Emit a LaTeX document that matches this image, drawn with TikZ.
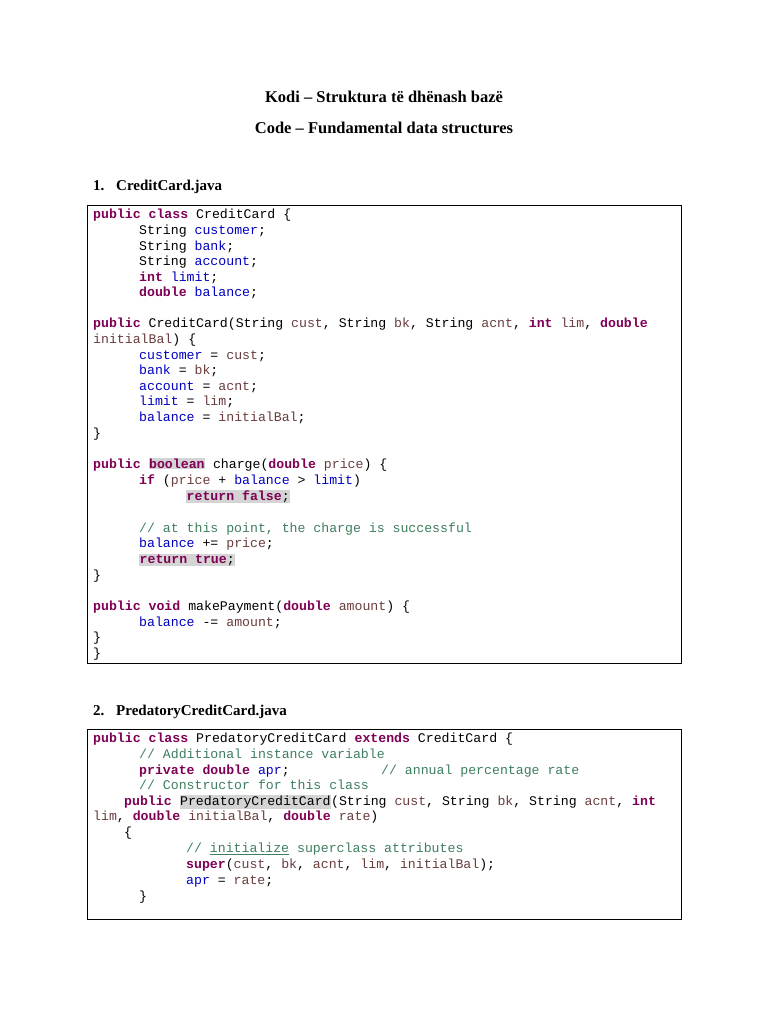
\documentclass[tikz,border=0pt]{standalone}
\usepackage{fontspec}
\setmainfont{Liberation Serif}
\setmonofont{Liberation Mono}
\definecolor{kwc}{HTML}{7F0055}
\definecolor{fdc}{HTML}{0000C0}
\definecolor{vrc}{HTML}{6A3E3E}
\definecolor{cmc}{HTML}{3F7F5F}
\definecolor{hlc}{HTML}{D4D4D4}
\newcommand{\kw}[1]{\textcolor{kwc}{\bfseries #1}}
\newcommand{\fd}[1]{\textcolor{fdc}{#1}}
\newcommand{\vr}[1]{\textcolor{vrc}{#1}}
\newcommand{\cm}[1]{\textcolor{cmc}{#1}}
\newcommand{\hlx}[1]{{\setlength{\fboxsep}{0.5pt}\colorbox{hlc}{#1}}}
\tikzset{codeline/.style={anchor=base west,inner sep=0pt,font=\ttfamily\fontsize{13.2}{15}\selectfont},
 titletext/.style={font=\bfseries\fontsize{16.5}{18}\selectfont,inner sep=0pt,anchor=base},
 headtext/.style={font=\bfseries\fontsize{15}{17}\selectfont,inner sep=0pt,anchor=base west},
 codebox/.style={draw=black,line width=0.8pt}}
\begin{document}
\begin{tikzpicture}[x=1pt,y=-1pt]
\useasboundingbox[fill=white] (0,0) rectangle (768,1024);
\node[titletext] (t1) at (384,103) {Kodi – Struktura të dhënash bazë};
\node[titletext] (t2) at (384,134) {Code – Fundamental data structures};
\node[headtext] (h1n) at (93,191) {1.};
\node[headtext] (h1) at (116,191) {CreditCard.java};
\node[headtext] (h2n) at (93,715) {2.};
\node[headtext] (h2) at (116,715) {PredatoryCreditCard.java};
\draw[codebox] (87,205) rectangle (681,663);
\draw[codebox] (87,729) rectangle (681,919);
% box 1
\node[codeline] (a1) at (93,218.5) {\kw{public class} CreditCard \{};
\node[codeline] (a2) at (139,234.5) {String \fd{customer};};
\node[codeline] (a3) at (139,250) {String \fd{bank};};
\node[codeline] (a4) at (139,265.5) {String \fd{account};};
\node[codeline] (a5) at (139,281.5) {\kw{int} \fd{limit};};
\node[codeline] (a6) at (139,296.5) {\kw{double} \fd{balance};};
\node[codeline] (a8) at (93,327.5) {\kw{public} CreditCard(String \vr{cust}, String \vr{bk}, String \vr{acnt}, \kw{int} \vr{lim}, \kw{double}};
\node[codeline] (a9) at (93,343.5) {\vr{initialBal}) \{};
\node[codeline] (a10) at (139,359.5) {\fd{customer} = \vr{cust};};
\node[codeline] (a11) at (139,374.5) {\fd{bank} = \vr{bk};};
\node[codeline] (a12) at (139,390.5) {\fd{account} = \vr{acnt};};
\node[codeline] (a13) at (139,405.5) {\fd{limit} = \vr{lim};};
\node[codeline] (a14) at (139,421.5) {\fd{balance} = \vr{initialBal};};
\node[codeline] (a15) at (93,437.5) {\}};
\node[codeline] (a17) at (93,468.5) {\kw{public} \hlx{\kw{boolean}} charge(\kw{double} \vr{price}) \{};
\node[codeline] (a18) at (139,484.5) {\kw{if} (\vr{price} + \fd{balance} > \fd{limit})};
\node[codeline] (a19) at (186,500.5) {\hlx{\kw{return false};}};
\node[codeline] (a21) at (139,532.5) {\cm{// at this point, the charge is successful}};
\node[codeline] (a22) at (139,547.5) {\fd{balance} += \vr{price};};
\node[codeline] (a23) at (139,563.5) {\hlx{\kw{return true};}};
\node[codeline] (a24) at (93,579.5) {\}};
\node[codeline] (a26) at (93,610.5) {\kw{public void} makePayment(\kw{double} \vr{amount}) \{};
\node[codeline] (a27) at (139,626.5) {\fd{balance} -= \vr{amount};};
\node[codeline] (a28) at (93,641.5) {\}};
\node[codeline] (a29) at (93,657.5) {\}};
% box 2
\node[codeline] (b1) at (93,742.5) {\kw{public class} PredatoryCreditCard \kw{extends} CreditCard \{};
\node[codeline] (b2) at (139,758.5) {\cm{// Additional instance variable}};
\node[codeline] (b3) at (139,774.5) {\kw{private double} \fd{apr};};
\node[codeline] (b3c) at (381,774.5) {\cm{// annual percentage rate}};
\node[codeline] (b4) at (139,789.5) {\cm{// Constructor for this class}};
\node[codeline] (b5) at (124,805.5) {\kw{public} \hlx{PredatoryCreditCard}(String \vr{cust}, String \vr{bk}, String \vr{acnt}, \kw{int}};
\node[codeline] (b6) at (93,820.5) {\vr{lim}, \kw{double} \vr{initialBal}, \kw{double} \vr{rate})};
\node[codeline] (b7) at (124,836.5) {\{};
\node[codeline] (b8) at (186,852.5) {\cm{// \underline{initialize} superclass attributes}};
\node[codeline] (b9) at (186,868) {\kw{super}(\vr{cust}, \vr{bk}, \vr{acnt}, \vr{lim}, \vr{initialBal});};
\node[codeline] (b10) at (186,884) {\fd{apr} = \vr{rate};};
\node[codeline] (b11) at (139,900) {\}};
\end{tikzpicture}
\end{document}
